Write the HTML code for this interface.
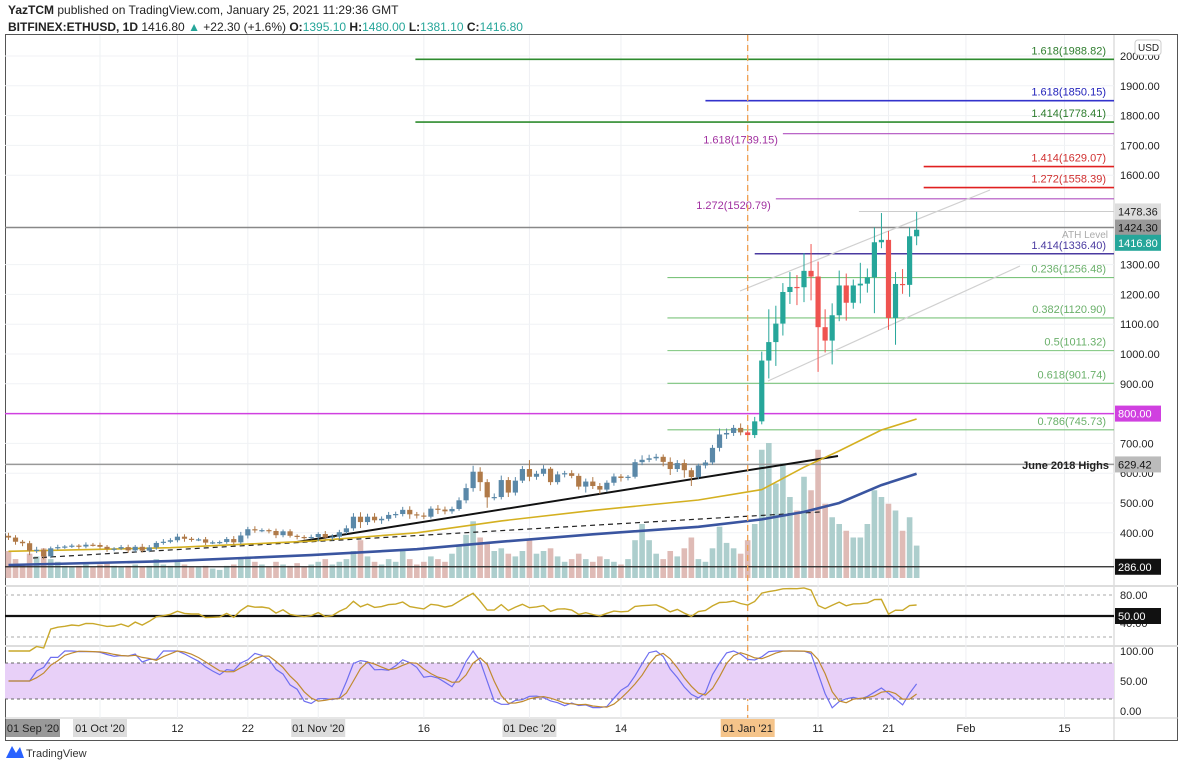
<!DOCTYPE html>
<html><head><meta charset="utf-8">
<style>
body{margin:0;background:#fff;width:1185px;height:768px;overflow:hidden;font-family:"Liberation Sans",sans-serif}
#hdr1{position:absolute;left:8px;top:3px;font-size:12px;color:#222}
#hdr2{position:absolute;left:8px;top:20px;font-size:12px;color:#222}
.t{color:#26a69a}
svg{position:absolute;left:0;top:0}
</style></head><body>
<div id="hdr1"><b>YazTCM</b> published on TradingView.com, January 25, 2021 11:29:36 GMT</div>
<div id="hdr2"><b>BITFINEX:ETHUSD, 1D</b> 1416.80 <span class="t">▲</span> +22.30 (+1.6%) <b>O:</b><span class="t">1395.10</span> <b>H:</b><span class="t">1480.00</span> <b>L:</b><span class="t">1381.10</span> <b>C:</b><span class="t">1416.80</span></div>
<svg id="c" width="1185" height="768"></svg>
<script>
const closes=[384,370,365,340,343,321,348,352,354,357,354,360,359,
353,346,347,352,341,353,340,351,366,370,375,387,380,378,378,367,368,369,379,368,391,412,408,409,406,392,405,390,386,383,386,
396,384,387,402,415,454,436,454,442,447,460,463,477,462,458,454,481,478,472,480,509,550,605,570,519,520,577,535,575,614,
588,598,615,570,596,600,591,555,572,557,545,568,589,584,588,637,645,650,655,638,614,634,610,587,626,636,685,730,735,752,737,
728,774,978,1040,1102,1208,1225,1224,1279,1260,1090,1045,1130,1230,1172,1230,1236,1257,1375,1383,1121,1235,1232,1395,1417];
const wickUp=[10,8,6,8,10,5,6,8,5,6,5,8,6,
8,6,5,7,8,6,10,8,6,9,7,10,8,6,5,8,6,5,7,10,12,8,10,6,5,8,6,7,5,6,8,
6,10,8,8,10,12,15,10,12,8,10,8,10,12,8,10,8,12,10,8,10,15,20,15,10,12,15,10,12,10,
30,10,12,6,10,8,10,8,10,15,10,8,10,8,6,10,15,12,10,8,15,10,12,8,6,8,10,20,15,10,15,
20,15,30,110,60,30,50,40,60,90,50,60,40,50,40,20,70,30,50,90,30,40,50,30,60];
const wickDn=[8,10,10,15,8,10,6,5,6,5,8,6,5,
6,10,8,5,8,6,6,5,8,6,5,7,10,8,6,8,5,6,6,8,6,10,8,6,8,10,7,6,8,6,5,
15,6,10,8,6,8,20,10,8,12,8,10,8,15,10,8,6,15,10,8,6,10,12,30,35,10,8,15,10,8,
15,10,8,10,8,10,8,10,20,10,15,8,10,12,8,6,10,8,8,15,20,10,25,30,8,10,8,12,15,10,10,
20,10,10,60,80,40,40,60,50,80,150,40,80,20,60,20,60,30,120,20,40,90,30,40,30];
const volumes=[20,14,10,18,16,22,14,12,9,8,9,10,8,
10,12,9,8,9,10,8,9,14,10,9,12,10,8,8,9,7,6,9,10,14,16,12,10,8,12,10,9,11,8,10,
12,14,10,12,14,20,28,16,12,10,14,12,20,14,10,12,16,14,12,18,24,32,42,30,26,20,22,18,16,20,
28,18,20,22,16,12,14,18,14,12,16,14,12,10,14,28,40,28,18,14,20,16,22,30,14,12,22,38,26,22,18,
28,40,95,100,70,85,60,50,75,65,95,55,45,40,35,30,30,40,65,60,55,50,35,45,24];
const maDays=[-13,10,30,45,57,70,85,94,100,105,111,116];
const maYellow=[338,350,372,400,440,475,510,545,620,675,745,782];
const maBlue=[292,305,325,345,370,395,420,445,470,500,560,598];
const priceTicks=[2000,1900,1800,1700,1600,1300,1200,1100,1000,900,700,600,500,400];
const timeLabels=["01 Sep '20","01 Oct '20","12","22","01 Nov '20","16","01 Dec '20","14","01 Jan '21","11","21","Feb","15"];
const timeDays=[-14.5,0,11,21,31,46,61,74,92,102,112,123,137];
const fibLabels=["1.618(1988.82)","1.618(1850.15)","1.414(1778.41)","1.618(1739.15)","1.414(1629.07)","1.272(1558.39)","1.272(1520.79)","1.414(1336.40)","0.236(1256.48)","0.382(1120.90)","0.5(1011.32)","0.618(901.74)","0.786(745.73)"];
const fibValues=[1988.82,1850.15,1778.41,1739.15,1629.07,1558.39,1520.79,1336.40,1256.48,1120.90,1011.32,901.74,745.73];
const fibStartDay=[44.8,86,44.8,97,117,117,96,93,80.6,80.6,80.6,80.6,80.6];
const fibColors=["#2e8b2e","#3333cc","#2e8b2e","#b050c0","#e02020","#e02020","#b050c0","#4a3aa0","#7cc47c","#7cc47c","#7cc47c","#7cc47c","#7cc47c"];
const fibTextColors=["#2e7d2e","#2222bb","#2e7d2e","#a030a0","#d03030","#d03030","#a030a0","#4a3aa0","#6ab06a","#6ab06a","#6ab06a","#6ab06a","#6ab06a"];

const NS="http://www.w3.org/2000/svg";
const svg=document.getElementById('c');
const X0=100,DX=7.04,AX=1114;
function xOf(d){return X0+DX*d;}
function xi(i){return xOf(i-13);}
function yP(p){return 354-(p-1000)*0.298;}
function yR(v){return 616-(v-50)*0.7;}
function yS(v){return 711-0.6*v;}
function mk(tag,a,parent){const e=document.createElementNS(NS,tag);for(const k in a)e.setAttribute(k,a[k]);(parent||svg).appendChild(e);return e;}

const frame=mk('rect',{x:5.5,y:34.5,width:1172,height:706,fill:'none',stroke:'#555'});


mk('line',{x1:AX,y1:35,x2:AX,y2:740,stroke:'#ccc'});
mk('line',{x1:5,y1:718,x2:1178,y2:718,stroke:'#ccc'});
mk('line',{x1:5,y1:586,x2:1178,y2:586,stroke:'#ddd','stroke-width':2});
mk('line',{x1:5,y1:646,x2:1178,y2:646,stroke:'#ddd','stroke-width':2});
timeDays.forEach(d=>{const x=xOf(d);if(x>8&&x<AX)mk('line',{x1:x,y1:35,x2:x,y2:718,stroke:'#eef0f3'});});
priceTicks.forEach(p=>mk('line',{x1:5,y1:yP(p),x2:AX,y2:yP(p),stroke:'#f0f2f5'}));

const g=mk('g',{});


volumes.forEach((v,i)=>{const o=i?closes[i-1]:390;const up=closes[i]>=o;
 const b=mk('rect',{x:xi(i)-2.8,y:578-v*1.35,width:5.6,height:v*1.35,fill:up?'#a4c9c8':'#dcb4ae',opacity:0.9},g);
 
 });
[[1424.30,'#888',1.5],[800,'#d040e0',1.5],[629.42,'#999',1.5],[286,'#222',1.2]].forEach(l=>mk('line',{x1:5,y1:yP(l[0]),x2:AX,y2:yP(l[0]),stroke:l[1],'stroke-width':l[2]},g));
mk('line',{x1:xOf(107.8),y1:yP(1478.36),x2:AX,y2:yP(1478.36),stroke:'#ccc'},g);
fibValues.forEach((v,i)=>{const y=yP(v);const x1=xOf(fibStartDay[i]);
 const ln=mk('line',{x1:x1,y1:y,x2:AX,y2:y,stroke:fibColors[i],'stroke-width':i<3||i==4||i==5||i==7?1.6:1.1},g);
 
 
 let tx,ty,anc;
 if(i==3||i==6){tx=x1-5;ty=y+10;anc='end';}else{tx=AX-8;ty=y-5;anc='end';}
 const t=mk('text',{x:tx,y:ty,'text-anchor':anc,'font-size':11,fill:fibTextColors[i]},g);t.textContent=fibLabels[i];
 
 });
let t=mk('text',{x:AX-6,y:238,'text-anchor':'end','font-size':10,fill:'#aaa'},g);t.textContent='ATH Level';

t=mk('text',{x:AX-5,y:469,'text-anchor':'end','font-size':11,'font-weight':'bold',fill:'#222'},g);t.textContent='June 2018 Highs';

mk('line',{x1:xOf(92),y1:35,x2:xOf(92),y2:718,stroke:'#f0a050','stroke-dasharray':'6,4','stroke-width':1.3});
mk('line',{x1:740,y1:291,x2:990,y2:190,stroke:'#d0d0d0','stroke-width':1.2},g);
mk('line',{x1:768,y1:381,x2:1020,y2:266,stroke:'#d0d0d0','stroke-width':1.2},g);
mk('line',{x1:297,y1:542,x2:838,y2:456,stroke:'#111','stroke-width':2},g);
mk('line',{x1:33,y1:558,x2:820,y2:512,stroke:'#222','stroke-width':1.2,'stroke-dasharray':'5,4'},g);
function maPath(arr,col,w,name){const d=maDays.map((dd,k)=>(k?'L':'M')+xOf(dd).toFixed(1)+','+yP(arr[k]).toFixed(1)).join('');
 const p=mk('path',{d:d,fill:'none',stroke:col,'stroke-width':w},g);}
maPath(maYellow,'#d4b020',1.6,'ma-yellow');
maPath(maBlue,'#3a55a0',2.6,'ma-blue');
closes.forEach((c,i)=>{const o=i?closes[i-1]:390;const up=c>=o;const x=xi(i);
 const jan=i>=105;const col=jan?(up?'#26a69a':'#ef5350'):(up?'#5a88a8':'#b07a48');
 const hi=Math.max(o,c)+wickUp[i],lo=Math.min(o,c)-wickDn[i];
 mk('line',{x1:x,y1:yP(hi),x2:x,y2:yP(lo),stroke:col,'stroke-width':1},g);
 const top=yP(Math.max(o,c)),h=Math.max(1.2,yP(Math.min(o,c))-top);
 const r=mk('rect',{x:x-2.6,y:top,width:5.2,height:h,fill:col},g);
 
 });
const rsi=[];let ag=0,al=0;
for(let i=1;i<closes.length;i++){const ch=closes[i]-closes[i-1];const gn=Math.max(ch,0),ls=Math.max(-ch,0);
 const n=Math.min(i,14);ag=(ag*(n-1)+gn)/n;al=(al*(n-1)+ls)/n;rsi.push(al==0?100:100-100/(1+ag/al));}
rsi.unshift(rsi[0]);
const raw=rsi.map((v,i)=>{const w=rsi.slice(Math.max(0,i-13),i+1);const mn=Math.min(...w),mx=Math.max(...w);return mx==mn?50:(v-mn)/(mx-mn)*100;});
const sma=(a,n)=>a.map((v,i)=>{const w=a.slice(Math.max(0,i-n+1),i+1);return w.reduce((s,x)=>s+x,0)/w.length;});
const K=sma(raw,3),D=sma(K,3);
mk('line',{x1:5,y1:yR(80),x2:AX,y2:yR(80),stroke:'#aaa','stroke-dasharray':'3,3'});
mk('line',{x1:5,y1:yR(20),x2:AX,y2:yR(20),stroke:'#aaa','stroke-dasharray':'3,3'});
mk('line',{x1:5,y1:yR(50),x2:AX,y2:yR(50),stroke:'#111','stroke-width':2.2});
let p=mk('polyline',{points:rsi.map((v,i)=>xi(i).toFixed(1)+','+yR(v).toFixed(1)).join(' '),fill:'none',stroke:'#c9a82a','stroke-width':1.4});

mk('rect',{x:5,y:yS(80),width:AX-5,height:yS(20)-yS(80),fill:'#e8d0f8'});
mk('line',{x1:5,y1:yS(80),x2:AX,y2:yS(80),stroke:'#666','stroke-dasharray':'3,3'});
mk('line',{x1:5,y1:yS(20),x2:AX,y2:yS(20),stroke:'#666','stroke-dasharray':'3,3'});
p=mk('polyline',{points:K.map((v,i)=>xi(i).toFixed(1)+','+yS(v).toFixed(1)).join(' '),fill:'none',stroke:'#6f6ff0','stroke-width':1.2});

p=mk('polyline',{points:D.map((v,i)=>xi(i).toFixed(1)+','+yS(v).toFixed(1)).join(' '),fill:'none',stroke:'#c08a30','stroke-width':1.2});

priceTicks.forEach(v=>{const tt=mk('text',{x:1120,y:yP(v)+4,'font-size':11,fill:'#222'});tt.textContent=v.toFixed(2);
 });
function tag(v,y,bg,fg,name){mk('rect',{x:1115,y:y-8,width:46,height:16,fill:bg});const tt=mk('text',{x:1118,y:y+4,'font-size':11,fill:fg});tt.textContent=v;
 }
tag('1478.36',yP(1478.36),'#ddd','#222','ath-high-tag');
tag('1424.30',yP(1424.30),'#999','#111','ath-level-tag');
tag('1416.80',yP(1416.80)+13,'#26a69a','#fff','last-price-tag');
tag('800.00',yP(800),'#d040e0','#fff','level-800-tag');
tag('629.42',yP(629.42),'#bbb','#111','june-2018-tag');
tag('286.00',yP(286),'#111','#fff','level-286-tag');
[[80,yR(80)],[40,yR(40)]].forEach(a=>{const tt=mk('text',{x:1120,y:a[1]+4,'font-size':11,fill:'#222'});tt.textContent=a[0].toFixed(2);});
tag('50.00',yR(50),'#111','#fff','rsi-50-tag');
[100,50,0].forEach(v=>{const tt=mk('text',{x:1120,y:yS(v)+4,'font-size':11,fill:'#222'});tt.textContent=v.toFixed(2);});
mk('rect',{x:1135,y:40,width:26,height:15,rx:3,fill:'#fff',stroke:'#ccc'});
t=mk('text',{x:1138,y:51,'font-size':10,fill:'#222'});t.textContent='USD';

timeLabels.forEach((s,k)=>{let x=xOf(timeDays[k]);const box=s.length>4;
 if(k==0)x=33;
 if(box){const bg=k==0?'#999':(k==8?'#f5c48a':'#ddd');mk('rect',{x:x-27,y:719,width:54,height:18,fill:bg});}
 const tt=mk('text',{x:x,y:732,'text-anchor':'middle','font-size':11,fill:'#222'});tt.textContent=s;
 });
mk('path',{d:'M6,758 L12,746 L16,753 L20,747 L24,758 Z',fill:'#2962ff'});
t=mk('text',{x:26,y:757,'font-size':11,fill:'#333'});t.textContent='TradingView';

</script>
</body></html>
